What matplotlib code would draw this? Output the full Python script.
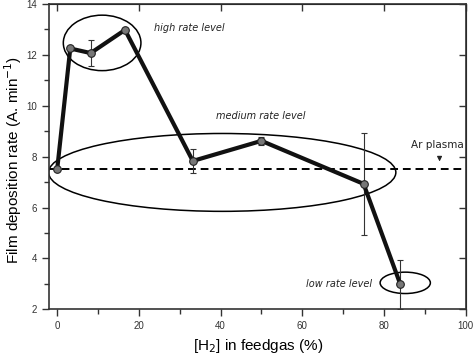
import numpy as np
import matplotlib
matplotlib.use('Agg')
import matplotlib.pyplot as plt
from matplotlib.patches import Ellipse
from matplotlib.ticker import MultipleLocator

# data
h2 = [0, 3.2, 8.2, 16.6, 33.2, 50, 75, 84]
rate = [7.5, 12.25, 12.07, 12.98, 7.83, 8.62, 6.93, 2.98]
err = [0, 0, 0.5, 0, 0.48, 0.15, 2.0, 0.95]
ar_level = 7.5

# ellipses: (x, y, width, height)
groups = {
    'high rate level': (11.0, 12.47, 19.0, 2.18),
    'medium rate level': (40.4, 7.38, 85.0, 3.06),
    'low rate level': (85.2, 3.04, 12.3, 0.84),
}

plt.rcParams['font.family'] = ['Liberation Sans', 'DejaVu Sans']

fig = plt.figure(figsize=(4.74, 3.61), dpi=100)
ax = fig.add_axes([0.1034, 0.1432, 0.8791, 0.8458])

ax.axhline(ar_level, color='black', lw=1.4, ls=(0, (4, 2.5)), zorder=1)

for name, (cx, cy, w, h) in groups.items():
    ax.add_patch(Ellipse((cx, cy), w, h, fill=False, ec='black', lw=1.1, zorder=2))

ax.errorbar(h2, rate, yerr=err, fmt='none', ecolor='#333333', elinewidth=0.8,
            capsize=2, capthick=0.8, zorder=3)
ax.plot(h2, rate, color='#111111', lw=3, zorder=4)
ax.plot(h2, rate, 'o', ms=5.5, mfc='#777777', mec='#222222', mew=0.8, zorder=5)

lab = dict(fontsize=7, style='italic', color='#222222', family='DejaVu Sans')
ax.text(23.7, 13.06, 'high rate level', ha='left', va='center', **lab)
ax.text(38.9, 9.6, 'medium rate level', ha='left', va='center', **lab)
ax.text(77, 2.98, 'low rate level', ha='right', va='center', **lab)

ax.text(99.5, 8.45, 'Ar plasma', ha='right', va='center', fontsize=7.5,
        color='#222222', family='DejaVu Sans')
ax.annotate('', xy=(93.6, 7.7), xytext=(93.6, 8.1),
            arrowprops=dict(arrowstyle='-|>', lw=0.8, color='#222222',
                            mutation_scale=7))

ax.set_xlim(-2, 100)
ax.set_ylim(2, 14)
ax.xaxis.set_major_locator(MultipleLocator(20))
ax.xaxis.set_minor_locator(MultipleLocator(10))
ax.yaxis.set_major_locator(MultipleLocator(2))
ax.yaxis.set_minor_locator(MultipleLocator(1))

ax.tick_params(which='both', direction='out', width=1, top=False, right=False,
               labelsize=7, colors='#333333', labelcolor='#333333')
ax.tick_params(which='major', length=5)
ax.tick_params(which='minor', length=3.5)

# inward ticks on top and right, no labels
sec_top = ax.secondary_xaxis('top')
sec_top.tick_params(which='both', direction='in', width=1, colors='#333333',
                    labeltop=False)
sec_right = ax.secondary_yaxis('right')
sec_right.tick_params(which='both', direction='in', width=1, colors='#333333',
                      labelright=False)
for a in (sec_top, sec_right):
    a.tick_params(which='major', length=5)
    a.tick_params(which='minor', length=3.5)

for s in ax.spines.values():
    s.set_linewidth(1.2)
    s.set_color('#333333')

fig.text(258 / 474, 1 - 346 / 361, '[H$_2$] in feedgas (%)', fontsize=11,
         ha='center', va='center')
fig.text(13 / 474, 1 - 160 / 361, 'Film deposition rate (A. min$^{-1}$)',
         fontsize=11, ha='center', va='center', rotation=90)

fig.savefig('out.png', dpi=100)
